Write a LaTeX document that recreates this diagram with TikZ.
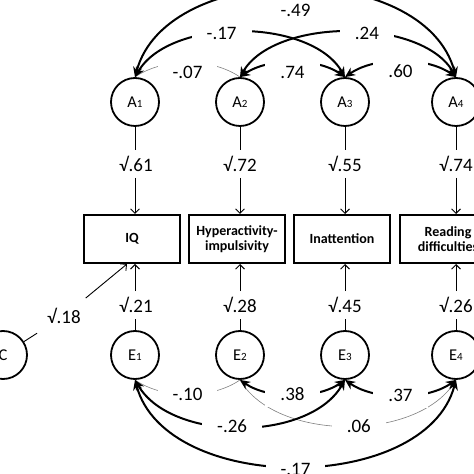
\documentclass[tikz,border=0pt]{standalone}
\usepackage{fontspec}
\setmainfont{Carlito}
\usepackage{tikz}
\usetikzlibrary{arrows.meta}
\newcommand{\lvname}[2]{#1{\fontsize{11}{11}\selectfont #2}}
\tikzset{
  latent/.style={circle, draw, line width=1.8pt, minimum size=48pt, inner sep=0pt, font=\fontsize{16.5}{16.5}\selectfont},
  indicator/.style={rectangle, draw, line width=2pt, minimum width=96pt, minimum height=48pt, align=center, font=\fontsize{14}{15.5}\selectfont\bfseries},
  coef/.style={inner sep=6pt, font=\fontsize{19}{19}\selectfont},
  corrlab/.style={coef, fill=white, inner xsep=15pt},
  plainline/.style={line width=0.9pt},
  loadarrow/.style={-{Straight Barb[length=4.5pt,width=9pt]}, line width=0.9pt},
  corrarrow/.style={{Stealth[length=10pt,width=9pt]}-{Stealth[length=10pt,width=9pt]}, line width=2pt},
  weakcorr/.style={draw=gray, line width=0.6pt}
}
\begin{document}
\begin{tikzpicture}[x=1pt,y=1pt]
  \useasboundingbox (0,0) rectangle (474,474);
  \clip (0,0) rectangle (474,474);

  % latent factors
  \node[latent] (A1) at (135,372) {\lvname{A}{1}};
  \node[latent] (A2) at (240,372) {\lvname{A}{2}};
  \node[latent] (A3) at (345,372) {\lvname{A}{3}};
  \node[latent] (A4) at (456,372) {\lvname{A}{4}};
  \node[latent] (E1) at (135,119) {\lvname{E}{1}};
  \node[latent] (E2) at (240,119) {\lvname{E}{2}};
  \node[latent] (E3) at (345,119) {\lvname{E}{3}};
  \node[latent] (E4) at (456,119) {\lvname{E}{4}};
  \node[latent] (C) at (3,119) {C};

  % measured traits
  \node[indicator] (B1) at (132,235) {IQ};
  \node[indicator] (B2) at (237,235) {Hyperactivity-\\impulsivity};
  \node[indicator] (B3) at (342,235) {Inattention};
  \node[indicator] (B4) at (448,235) {Reading\\difficulties};

  % path coefficients
  \node[coef] (l61) at (136,310) {√.61};
  \node[coef] (l72) at (240,310) {√.72};
  \node[coef] (l55) at (345,310) {√.55};
  \node[coef] (l74) at (456,310) {√.74};
  \node[coef] (l21) at (136,169) {√.21};
  \node[coef] (l28) at (240,169) {√.28};
  \node[coef] (l45) at (345,169) {√.45};
  \node[coef] (l26) at (456,169) {√.26};
  \node[coef, inner sep=10pt] (l18) at (64,158) {√.18};

  \foreach \i/\lab in {1/l61,2/l72,3/l55,4/l74} {
    \draw[plainline] (A\i) -- (A\i |- \lab.north);
    \draw[loadarrow] (A\i |- \lab.south) -- (A\i |- B\i.north);
  }
  \foreach \i/\lab in {1/l21,2/l28,3/l45,4/l26} {
    \draw[plainline] (E\i) -- (E\i |- \lab.south);
    \draw[loadarrow] (E\i |- \lab.north) -- (E\i |- B\i.south);
  }
  \draw[plainline] (C) -- (l18);
  \draw[loadarrow] (l18) -- ([xshift=-5pt]B1.south);

  % genetic correlations
  \draw[weakcorr] (A1.north) .. controls +(35:34) and +(145:34) .. node[corrlab, pos=.5, yshift=-10pt] {-.07} (A2.north);
  \draw[corrarrow] (A2.north) .. controls +(35:34) and +(145:34) .. node[corrlab, pos=.5, yshift=-10pt] {.74} (A3.north);
  \draw[corrarrow] (A3.north) .. controls +(35:36) and +(145:36) .. node[corrlab, pos=.5, yshift=-10pt] {.60} (A4.north);
  \draw[corrarrow] (A1.north) .. controls +(60:69) and +(120:69) .. node[corrlab, pos=.43] {-.17} (A3.north);
  \draw[corrarrow] (A2.north) .. controls +(60:69) and +(120:69) .. node[corrlab, pos=.57] {.24} (A4.north);
  \draw[corrarrow] (A1.north) .. controls +(75:122) and +(105:122) .. node[coef, pos=.5, yshift=-22pt] {-.49} (A4.north);

  % environmental correlations
  \draw[weakcorr] (E1.south) .. controls +(-35:34) and +(-145:34) .. node[corrlab, pos=.5] {-.10} (E2.south);
  \draw[weakcorr] (E2.south) .. controls +(-60:72) and +(-120:72) .. node[corrlab, pos=.54] {.06} (E4.south);
  \draw[corrarrow] (E2.south) .. controls +(-35:34) and +(-145:34) .. node[corrlab, pos=.5] {.38} (E3.south);
  \draw[corrarrow] (E3.south) .. controls +(-35:36) and +(-145:36) .. node[corrlab, pos=.5] {.37} (E4.south);
  \draw[corrarrow] (E1.south) .. controls +(-60:72) and +(-120:72) .. node[corrlab, pos=.47] {-.26} (E3.south);
  \draw[corrarrow] (E1.south) .. controls +(-75:119) and +(-105:119) .. node[corrlab, pos=.5, yshift=-3pt] {-.17} (E4.south);
\end{tikzpicture}
\end{document}
